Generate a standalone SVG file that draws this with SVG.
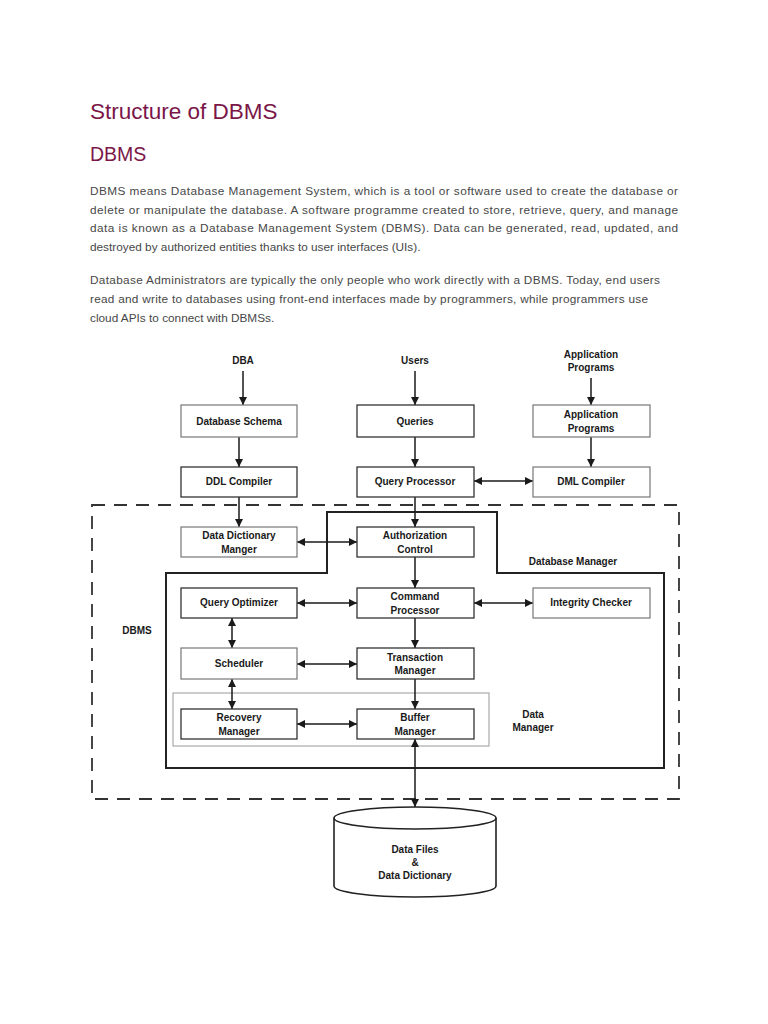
<svg xmlns="http://www.w3.org/2000/svg" width="768" height="1024" viewBox="0 0 768 1024">
<style>
.h1{font-family:"Liberation Sans",Arial,sans-serif;font-size:22.5px;fill:#7a1648}
.h2{font-family:"Liberation Sans",Arial,sans-serif;font-size:19.5px;fill:#7a1648}
.p{font-family:"Liberation Sans",Arial,sans-serif;font-size:11.8px;fill:#474747}
.lbl{font-family:"Liberation Sans",Arial,sans-serif;font-size:10px;font-weight:bold;fill:#1a1a1a;text-anchor:middle}
.box{fill:#fff;stroke:#333;stroke-width:1.3}
.lbox{fill:#fff;stroke:#777;stroke-width:1.2}
.ln{stroke:#1a1a1a;stroke-width:1.5;fill:none}
</style>
<defs>
<marker id="ah" viewBox="0 0 10 10" refX="10" refY="5" markerWidth="8" markerHeight="8" markerUnits="userSpaceOnUse" orient="auto-start-reverse">
<path d="M0,0 L10,5 L0,10 Z" fill="#1a1a1a"/>
</marker>
</defs>
<rect width="768" height="1024" fill="#fff"/>

<text class="h1" x="90" y="119">Structure of DBMS</text>
<text class="h2" x="90" y="161">DBMS</text>
<g id="para1">
<text class="p" x="90" y="195" textLength="588" lengthAdjust="spacing">DBMS means Database Management System, which is a tool or software used to create the database or</text>
<text class="p" x="90" y="214" textLength="588" lengthAdjust="spacing">delete or manipulate the database. A software programme created to store, retrieve, query, and manage</text>
<text class="p" x="90" y="232" textLength="588" lengthAdjust="spacing">data is known as a Database Management System (DBMS). Data can be generated, read, updated, and</text>
<text class="p" x="90" y="251">destroyed by authorized entities thanks to user interfaces (UIs).</text>
</g>
<g id="para2">
<text class="p" x="90" y="284" textLength="570" lengthAdjust="spacing">Database Administrators are typically the only people who work directly with a DBMS. Today, end users</text>
<text class="p" x="90" y="303" textLength="558" lengthAdjust="spacing">read and write to databases using front-end interfaces made by programmers, while programmers use</text>
<text class="p" x="90" y="322">cloud APIs to connect with DBMSs.</text>
</g>

<g id="dbms-boundary">
<rect x="92" y="505" width="587" height="294" fill="none" stroke="#333" stroke-width="1.8" stroke-dasharray="13 9"/>
<text class="lbl" x="137" y="634">DBMS</text>
</g>
<g id="database-manager">
<path d="M327,512 H497 V573 H664 V768 H166 V573 H327 Z" fill="none" stroke="#222" stroke-width="2"/>
<text class="lbl" x="573" y="565">Database Manager</text>
</g>
<g id="data-manager">
<rect x="173" y="693" width="316" height="53" fill="none" stroke="#999" stroke-width="1"/>
<text class="lbl" x="533" y="718">Data</text>
<text class="lbl" x="533" y="731">Manager</text>
</g>

<g id="connectors">
<line class="ln" x1="243" y1="371" x2="243" y2="405" marker-end="url(#ah)"/>
<line class="ln" x1="415" y1="371" x2="415" y2="405" marker-end="url(#ah)"/>
<line class="ln" x1="591" y1="378" x2="591" y2="405" marker-end="url(#ah)"/>
<line class="ln" x1="239" y1="437" x2="239" y2="467" marker-end="url(#ah)"/>
<line class="ln" x1="415" y1="437" x2="415" y2="467" marker-end="url(#ah)"/>
<line class="ln" x1="591" y1="437" x2="591" y2="467" marker-end="url(#ah)"/>
<line class="ln" x1="474" y1="481" x2="533" y2="481" marker-start="url(#ah)" marker-end="url(#ah)"/>
<line class="ln" x1="239" y1="497" x2="239" y2="527" marker-end="url(#ah)"/>
<line class="ln" x1="415" y1="497" x2="415" y2="527" marker-end="url(#ah)"/>
<line class="ln" x1="297" y1="542" x2="357" y2="542" marker-start="url(#ah)" marker-end="url(#ah)"/>
<line class="ln" x1="415" y1="557" x2="415" y2="588" marker-end="url(#ah)"/>
<line class="ln" x1="297" y1="603" x2="357" y2="603" marker-start="url(#ah)" marker-end="url(#ah)"/>
<line class="ln" x1="474" y1="603" x2="533" y2="603" marker-start="url(#ah)" marker-end="url(#ah)"/>
<line class="ln" x1="232" y1="618" x2="232" y2="648" marker-start="url(#ah)" marker-end="url(#ah)"/>
<line class="ln" x1="415" y1="618" x2="415" y2="648" marker-end="url(#ah)"/>
<line class="ln" x1="297" y1="664" x2="357" y2="664" marker-start="url(#ah)" marker-end="url(#ah)"/>
<line class="ln" x1="232" y1="679" x2="232" y2="709" marker-start="url(#ah)" marker-end="url(#ah)"/>
<line class="ln" x1="415" y1="679" x2="415" y2="709" marker-end="url(#ah)"/>
<line class="ln" x1="297" y1="724" x2="357" y2="724" marker-start="url(#ah)" marker-end="url(#ah)"/>
<line class="ln" x1="415" y1="739" x2="415" y2="807" marker-start="url(#ah)" marker-end="url(#ah)"/>
</g>

<g id="dba"><text class="lbl" x="243" y="364">DBA</text></g>
<g id="users"><text class="lbl" x="415" y="364">Users</text></g>
<g id="app-programs-actor"><text class="lbl" x="591" y="358">Application</text><text class="lbl" x="591" y="371">Programs</text></g>

<g id="database-schema"><rect class="lbox" x="181" y="405" width="116" height="32"/><text class="lbl" x="239" y="425">Database Schema</text></g>
<g id="queries"><rect class="box" x="357" y="405" width="117" height="32"/><text class="lbl" x="415" y="425">Queries</text></g>
<g id="application-programs"><rect class="lbox" x="533" y="405" width="117" height="32"/><text class="lbl" x="591" y="418">Application</text><text class="lbl" x="591" y="432">Programs</text></g>

<g id="ddl-compiler"><rect class="box" x="181" y="467" width="116" height="30"/><text class="lbl" x="239" y="485">DDL Compiler</text></g>
<g id="query-processor"><rect class="box" x="357" y="467" width="117" height="30"/><text class="lbl" x="415" y="485">Query Processor</text></g>
<g id="dml-compiler"><rect class="lbox" x="533" y="467" width="117" height="30"/><text class="lbl" x="591" y="485">DML Compiler</text></g>

<g id="data-dictionary-manger"><rect class="lbox" x="181" y="527" width="116" height="30"/><text class="lbl" x="239" y="539">Data Dictionary</text><text class="lbl" x="239" y="553">Manger</text></g>
<g id="authorization-control"><rect class="box" x="357" y="527" width="117" height="30"/><text class="lbl" x="415" y="539">Authorization</text><text class="lbl" x="415" y="553">Control</text></g>

<g id="query-optimizer"><rect class="box" x="181" y="588" width="116" height="30"/><text class="lbl" x="239" y="606">Query Optimizer</text></g>
<g id="command-processor"><rect class="box" x="357" y="588" width="117" height="30"/><text class="lbl" x="415" y="600">Command</text><text class="lbl" x="415" y="614">Processor</text></g>
<g id="integrity-checker"><rect class="lbox" x="533" y="588" width="117" height="30"/><text class="lbl" x="591" y="606">Integrity Checker</text></g>

<g id="scheduler"><rect class="lbox" x="181" y="648" width="116" height="31"/><text class="lbl" x="239" y="667">Scheduler</text></g>
<g id="transaction-manager"><rect class="box" x="357" y="648" width="117" height="31"/><text class="lbl" x="415" y="661">Transaction</text><text class="lbl" x="415" y="674">Manager</text></g>

<g id="recovery-manager"><rect class="box" x="181" y="709" width="116" height="30"/><text class="lbl" x="239" y="721">Recovery</text><text class="lbl" x="239" y="735">Manager</text></g>
<g id="buffer-manager"><rect class="box" x="357" y="709" width="117" height="30"/><text class="lbl" x="415" y="721">Buffer</text><text class="lbl" x="415" y="735">Manager</text></g>

<g id="data-files">
<path d="M334,818 V886 A81,11 0 0 0 496,886 V818" fill="#fff" stroke="#222" stroke-width="1.6"/>
<ellipse cx="415" cy="818" rx="81" ry="11" fill="#fff" stroke="#222" stroke-width="1.6"/>
<text class="lbl" x="415" y="853">Data Files</text>
<text class="lbl" x="415" y="866">&amp;</text>
<text class="lbl" x="415" y="879">Data Dictionary</text>
</g>
</svg>
